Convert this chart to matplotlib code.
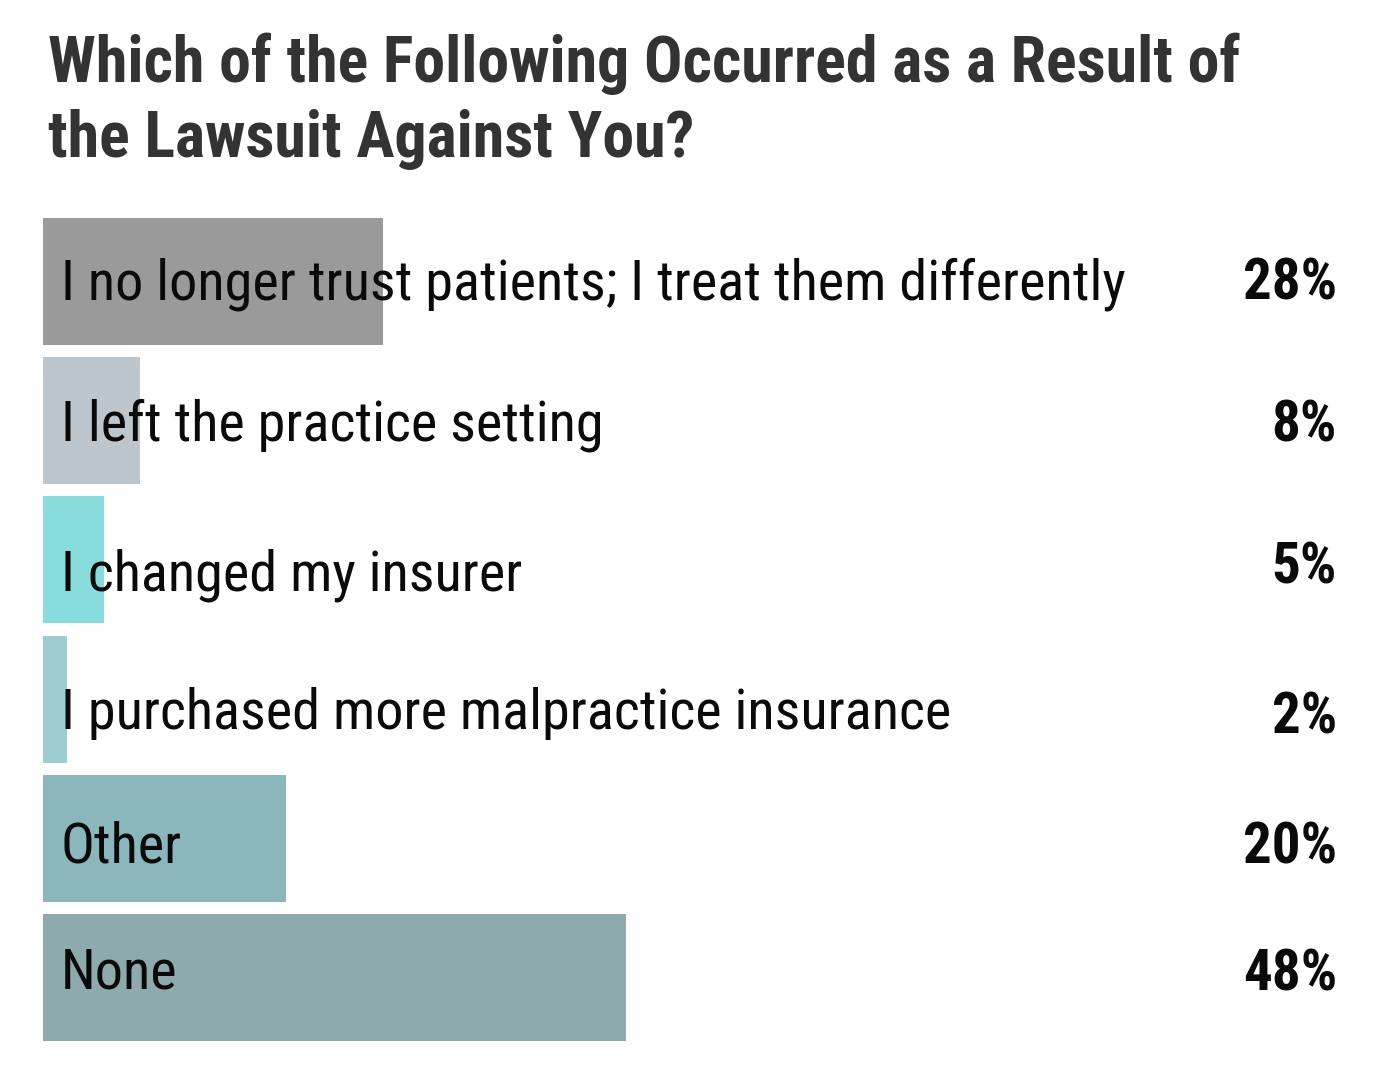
import matplotlib.pyplot as plt
from matplotlib import font_manager
from matplotlib.transforms import blended_transform_factory

# Data
labels = [
    'I no longer trust patients; I treat them differently',
    'I left the practice setting',
    'I changed my insurer',
    'I purchased more malpractice insurance',
    'Other',
    'None',
]
values = [28, 8, 5, 2, 20, 48]
colors = ['#9a9a9a', '#bcc6cc', '#88dcdc', '#9ccdd1', '#8ab6bc', '#8eaaad']

# baseline nudges below bar centre (px) - text sits a little unevenly in the original
label_dy = [18.5, 19.5, 30.5, 29.5, 24.5, 10.5]
pct_dy = [18.5, 20.5, 23.5, 34.5, 25.5, 12.5]

names = {f.name for f in font_manager.fontManager.ttflist}
fam = 'Roboto Condensed' if 'Roboto Condensed' in names else 'Roboto'
plt.rcParams['font.family'] = [fam, 'DejaVu Sans']

W, H = 1380, 1082
fig = plt.figure(figsize=(W / 100, H / 100), dpi=100)
fig.patch.set_facecolor('white')

# axes: x 43..1335 px, y 218..1041 px
ax = fig.add_axes([43 / W, 1 - 1041 / H, (1335 - 43) / W, (1041 - 218) / H])
px_per_pct = 340 / 28
ax.set_xlim(0, (1335 - 43) / px_per_pct)
bh = 0.912
ax.set_ylim(len(values) - 1 + bh / 2, -bh / 2)
ax.axis('off')

ys = list(range(len(values)))
ax.barh(ys, values, height=bh, color=colors, edgecolor='none')

pt = 0.72  # px -> points at dpi 100
trans = blended_transform_factory(ax.transAxes, ax.transData)
for y, lab, v, dl, dp in zip(ys, labels, values, label_dy, pct_dy):
    ax.annotate(lab, xy=(0, y), xycoords=trans, xytext=(18 * pt, -dl * pt),
                textcoords='offset points', ha='left', va='baseline',
                fontsize=40.5, fontweight='normal', color='#0a0a0a')
    ax.annotate(f'{v}%', xy=(1, y), xycoords=trans, xytext=(1.5, -dp * pt),
                textcoords='offset points', ha='right', va='baseline',
                fontsize=41, fontweight='bold', color='#0a0a0a')

# Title
fig.text(48 / W, 1 - 82 / H, 'Which of the Following Occurred as a Result of',
         ha='left', va='baseline', fontsize=46, fontweight='bold', color='#333333')
fig.text(48 / W, 1 - 157 / H, 'the Lawsuit Against You?',
         ha='left', va='baseline', fontsize=46, fontweight='bold', color='#333333')

fig.savefig('out.png', dpi=100, facecolor='white')
